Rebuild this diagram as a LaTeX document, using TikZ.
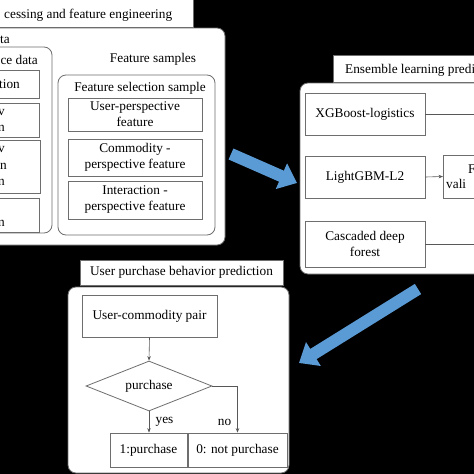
\documentclass[tikz,border=0pt]{standalone}
\usepackage{fontspec}
\setmainfont{Liberation Serif}
\usetikzlibrary{shapes.geometric,arrows.meta}
\definecolor{bord}{RGB}{110,110,110}
\definecolor{blu}{RGB}{91,155,213}
\newcommand{\fsz}{\fontsize{13.3}{16}\selectfont}
\begin{document}
\begin{tikzpicture}[x=1pt,y=-1pt,
 cont/.style={draw=bord,fill=white,line width=0.8pt,rounded corners=8pt},
 plain/.style={draw=bord,fill=white,line width=0.8pt},
 box/.style={draw=bord,fill=white,line width=0.8pt,inner sep=0pt,align=center,font=\fsz},
 txt/.style={inner sep=0pt,font=\fsz,align=center},
 conn/.style={draw=bord!80!black,line width=0.6pt},
 arr/.style={conn,-{Stealth[length=4.5pt,width=3.5pt]}},
 bigarrow/.style={blu,line width=12pt,-{Triangle[length=17pt,width=27pt]}}
]
\fill[black] (0,0) rectangle (474,474);
\useasboundingbox (0,0) rectangle (474,474);
\clip (0,0) rectangle (474,474);

% ---------- group A: preprocessing ----------
\draw[plain] (-10,-10) rectangle (193,27);
\node[txt,anchor=west] (tA) at (4,15) {cessing and feature engineering};
\draw[cont] (-10,28) rectangle (225,245);
\node[txt,anchor=west] (raw) at (0,40) {ta};
\draw[cont] (-10,47) rectangle (52,233);
\node[txt,anchor=east] (src) at (38,60) {ce data};
\draw[plain] (-10,70) rectangle (39,98);
\node[txt,anchor=east] (s1) at (20,84) {tion};
\draw[plain] (-10,103) rectangle (39,137);
\node[txt,anchor=east] (s2a) at (5,113) {v};
\node[txt,anchor=east] (s2b) at (5,128) {n};
\draw[plain] (-10,140) rectangle (40,193);
\node[txt,anchor=east] (s3a) at (5,150) {v};
\node[txt,anchor=east] (s3b) at (7,166) {n};
\node[txt,anchor=east] (s3c) at (5,182) {n};
\draw[plain] (-10,198) rectangle (39,232);
\node[txt,anchor=east] (s4) at (5,223) {n};

\node[txt] (fs) at (153,59) {Feature samples};
\draw[cont] (58,75) rectangle (215,235);
\node[txt] (fss) at (140,88) {Feature selection sample};
\node[box,minimum width=134,minimum height=33] (f1) at (135,114.5) {User-perspective\\feature};
\node[box,minimum width=134,minimum height=37] (f2) at (135,157.5) {Commodity -\\perspective feature};
\node[box,minimum width=134,minimum height=38] (f3) at (135,200) {Interaction -\\perspective feature};

% ---------- group B: ensemble ----------
\draw[plain] (333,55) rectangle (484,82);
\node[txt,anchor=west] (tB) at (345,70) {Ensemble learning predi};
\draw[cont] (300,83) rectangle (490,274);
\node[box,minimum width=120,minimum height=42] (xgb) at (365,114) {XGBoost-logistics};
\node[box,minimum width=120,minimum height=42] (lgbm) at (365,177) {LightGBM-L2};
\node[box,minimum width=120,minimum height=46] (cdf) at (365,244) {Cascaded deep\\forest};
\node[box,minimum width=50,minimum height=43,anchor=west] (fus) at (443,176.5) {};
\node[txt,anchor=west] (fusA) at (468,169) {F};
\node[txt,anchor=west] (fusB) at (446,184) {vali};
\coordinate (xgbR) at (480,114);
\coordinate (cdfR) at (480,244);
\draw[conn] (xgb.east) -- (xgbR);
\draw[conn] (cdf.east) -- (cdfR);
\draw[arr] (lgbm.east) -- (fus.west);

% ---------- group C: purchase prediction ----------
\draw[plain] (80,260) rectangle (283,285);
\node[txt] (tC) at (181.5,272.5) {User purchase behavior prediction};
\draw[cont] (68,287) rectangle (289,473);
\node[box,minimum width=135,minimum height=42] (pair) at (149.5,316) {User-commodity pair};
\node[box,diamond,aspect=2.5,minimum width=126,minimum height=50] (dia) at (149,386) {purchase};
\node[box,minimum width=77,minimum height=34] (one) at (148.5,450) {1:purchase};
\node[box,minimum width=99,minimum height=34] (zero) at (237.5,450) {0: not purchase};
\draw[arr] (pair.south) -- (dia.north);
\draw[arr] (dia.south) -- (dia.south |- one.north);
\draw[arr] (dia.east) -| (zero.north);
\node[txt] (yes) at (164.5,422) {yes};
\node[txt] (no) at (224.5,422) {no};

% ---------- big blue arrows ----------
\coordinate (b1s) at (231,154);
\coordinate (b1e) at (297,183);
\coordinate (b2s) at (418,289);
\coordinate (b2e) at (299,363);
\draw[bigarrow] (b1s) -- (b1e);
\draw[bigarrow] (b2s) -- (b2e);
\end{tikzpicture}
\end{document}
